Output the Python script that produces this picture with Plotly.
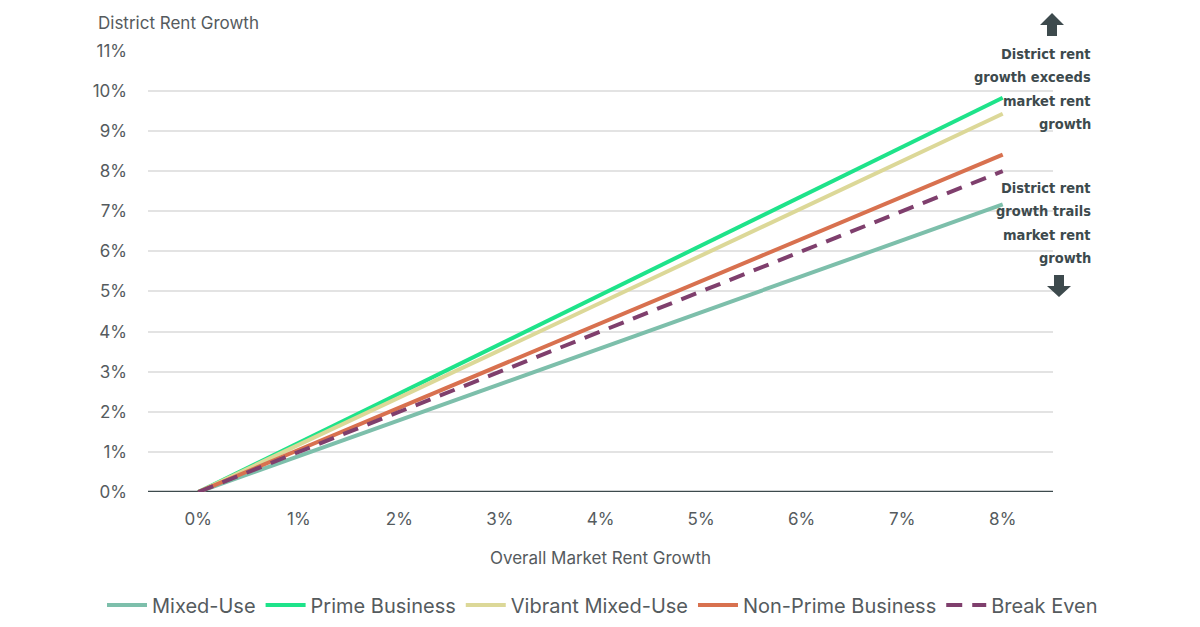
import plotly.graph_objects as go

market_growth = [0, 8]
x_ticks = [0, 1, 2, 3, 4, 5, 6, 7, 8]
x_labels = ["0%", "1%", "2%", "3%", "4%", "5%", "6%", "7%", "8%"]
y_ticks = list(range(0, 12))
y_labels = [f"{v}%" for v in y_ticks]

mixed_use = [0, 7.17]
prime_business = [0, 9.83]
vibrant_mixed_use = [0, 9.43]
non_prime_business = [0, 8.41]
break_even = [0, 8.0]

upper_note = ["District rent", "growth exceeds", "market rent", "growth"]
lower_note = ["District rent", "growth trails", "market rent", "growth"]

series = [
    ("Mixed-Use", mixed_use, "#7dbfab", "solid"),
    ("Prime Business", prime_business, "#1ee38a", "solid"),
    ("Vibrant Mixed-Use", vibrant_mixed_use, "#dcd898", "solid"),
    ("Non-Prime Business", non_prime_business, "#d8714f", "solid"),
    ("Break Even", break_even, "#7f3f6d", "dash"),
]

fig = go.Figure()
for name, vals, color, dash in series:
    fig.add_trace(go.Scatter(
        x=market_growth, y=vals, name=name, mode="lines",
        line=dict(color=color, width=4, dash=dash if dash == "solid" else "16px,10px"),
    ))

txt = "#555b5e"
dark = "#3d4a4d"
font = "Inter, Roboto, sans-serif"

pw, ph = 1200 - 148 - 147, 627 - 50 - 135
def px(x):
    return (x - 148) / pw
def py(y):
    return (627 - 135 - y) / ph

fig.update_layout(
    width=1200, height=627,
    margin=dict(l=148, r=147, t=50, b=135, autoexpand=False),
    paper_bgcolor="white", plot_bgcolor="white",
    font=dict(family=font, size=17, color=txt),
    showlegend=True,
    legend=dict(orientation="h", x=px(102), xanchor="left",
                y=py(605), yanchor="middle",
                font=dict(size=20, color=txt), itemwidth=40, tracegroupgap=0),
    xaxis=dict(range=[-0.5, 8.5], tickvals=x_ticks, ticktext=x_labels, automargin=False,
               showgrid=False, zeroline=False, showline=False, ticks="", ticklabelstandoff=15,
               tickfont=dict(size=17, color=txt),
               title=dict(text="Overall Market Rent Growth", font=dict(size=17, color=txt), standoff=24)),
    yaxis=dict(range=[0, 11.02], tickvals=y_ticks, ticktext=y_labels, automargin=False,
               showgrid=True, gridcolor="#e3e3e3", gridwidth=1.5,
               zeroline=False, showline=False, ticks="", ticklabelstandoff=20,
               tickfont=dict(size=17, color=txt)),
)

# zero baseline
fig.add_shape(type="line", xref="paper", yref="y", x0=0, x1=1, y0=0, y1=0,
              line=dict(color=dark, width=2.5), layer="below")

fig.add_annotation(xref="paper", yref="paper", x=-0.058, y=1.035, xanchor="left", yanchor="bottom",
                   text="District Rent Growth", showarrow=False, font=dict(size=17, color=txt))

cond = "DejaVu Sans Condensed, sans-serif"
for lines, y0 in ((upper_note, 54), (lower_note, 188)):
    for i, line in enumerate(lines):
        fig.add_annotation(xref="paper", yref="paper", x=px(1093), y=py(y0 + i * 23.3),
                           xanchor="right", yanchor="middle", showarrow=False,
                           text=f"<b>{line}</b>", font=dict(family=cond, size=14.5, color=dark))

up = [(1052, 13), (1064, 25), (1057, 25), (1057, 36), (1047, 36), (1047, 25), (1040, 25)]
down = [(1059, 297), (1071, 286), (1064, 286), (1064, 275), (1054, 275), (1054, 286), (1047, 286)]
for pts in (up, down):
    path = "M " + " L ".join(f"{px(a):.5f},{py(b):.5f}" for a, b in pts) + " Z"
    fig.add_shape(type="path", xref="paper", yref="paper", path=path,
                  fillcolor=dark, line=dict(color=dark, width=0))

fig.write_html("out.html")
